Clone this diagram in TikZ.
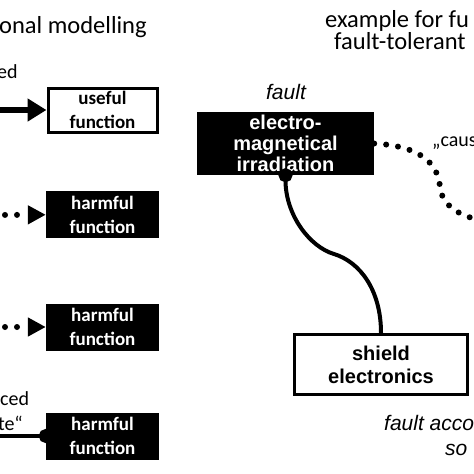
\documentclass[tikz,border=0pt]{standalone}
\usepackage{fontspec}
\setmainfont{Carlito}
\newfontfamily\arialfont{Liberation Sans}
\usetikzlibrary{arrows.meta,positioning,calc}
\tikzset{
titletext/.style={inner sep=0pt, font=\fontsize{24.5}{24.5}\selectfont},
sidetext/.style={inner sep=0pt, font=\fontsize{20}{20}\selectfont},
funcbox/.style={draw, line width=3pt, fill=white, align=center, inner sep=0pt, minimum width=109pt, minimum height=44pt, font=\fontsize{19}{24}\selectfont\bfseries},
harmbox/.style={fill=black, text=white, align=center, inner sep=0pt, minimum width=113pt, minimum height=47pt, font=\fontsize{19}{24}\selectfont\bfseries},
embox/.style={fill=black, text=white, align=center, inner sep=0pt, minimum width=177pt, minimum height=63pt, font=\arialfont\fontsize{20}{21}\selectfont\bfseries},
shieldbox/.style={draw, line width=3pt, fill=white, align=center, inner sep=0pt, minimum width=173pt, minimum height=60pt, font=\arialfont\fontsize{20}{23}\selectfont\bfseries},
italictext/.style={inner sep=0pt, font=\arialfont\fontsize{21}{21}\selectfont\itshape},
usefularrow/.style={-{Triangle[length=19pt,width=22pt]}, line width=6pt},
dotarrow/.style={-{Triangle[length=18pt,width=18pt]}, line width=6pt, line cap=round, dash pattern=on 0pt off 12pt},
blobline/.style={-{Circle[length=14pt]}, line width=4pt, shorten >=-7pt},
blobcurve/.style={{Circle[length=14pt]}-, line width=4pt, shorten <=-7pt},
dotcurve/.style={line width=6pt, line cap=round, dash pattern=on 0pt off 12pt}
}
\begin{document}
\begin{tikzpicture}[x=1pt,y=-1pt]
\useasboundingbox (0,0) rectangle (474,474);

\node[titletext, anchor=base west] (lefttitle) at (-1,33) {onal modelling};
\node[sidetext, anchor=base west] (edlabel) at (-3,78) {ed};
\node[funcbox] (useful) at (102.5,110) {useful\\function};
\node[harmbox] (harmfulA) at (102.5,214.5) {harmful\\function};
\node[harmbox] (harmfulB) at (102.5,327) {harmful\\function};
\node[harmbox] (harmfulC) at (102.5,436) {harmful\\function};
\node[sidetext, anchor=base west] (cedlabel) at (0,405) {ced};
\node[sidetext, anchor=base west] (telabel) at (-2,430) {te“};

\coordinate (inA) at (-8,110);
\coordinate (inB) at (-7,215);
\coordinate (inC) at (-7,327);
\coordinate (inD) at (-8,436);
\draw[usefularrow] (inA) -- (useful);
\draw[dotarrow] (inB) -- (harmfulA);
\draw[dotarrow] (inC) -- (harmfulB);
\draw[blobline] (inD) -- (harmfulC);

\node[titletext, anchor=base west] (righttitleA) at (325,27) {example for fu};
\node[titletext, anchor=base west] (righttitleB) at (334,49) {fault-tolerant};
\node[italictext] (faultlbl) at (286,92) {fault};
\node[embox] (irrad) at (285.5,143.5) {electro-\\magnetical\\irradiation};
\node[shieldbox] (shield) at (381,364.5) {shield\\electronics};
\node[sidetext, anchor=base west] (causlbl) at (432,146) {„caus};
\node[italictext, anchor=base west] (acclbl) at (384,430) {fault acco};
\node[italictext, anchor=base west] (solbl) at (445,455) {so};

\draw[blobcurve] (irrad.south) .. controls +(0,40) and (310,247) .. (334,254)
  .. controls (360,262) and (381,290) .. (shield.north);
\coordinate (causeend) at (484,221);
\draw[dotcurve] (irrad.east) .. controls (420,146) and (438,163) .. (440,187)
  .. controls (442,205) and (458,216) .. (causeend);
\end{tikzpicture}
\end{document}
